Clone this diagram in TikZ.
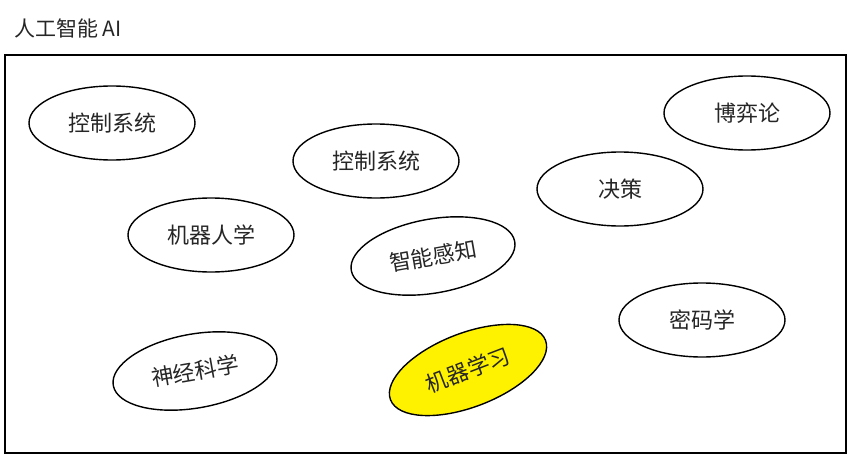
\documentclass[tikz,border=0pt]{standalone}
\usepackage{fontspec}
\setmainfont{Noto Sans CJK SC}
\usetikzlibrary{shapes.geometric}
\tikzset{
  topic/.style={draw=black, line width=1.4pt, ellipse, minimum width=166pt, minimum height=74pt, inner sep=0pt, font=\fontsize{22}{26}\selectfont, text=black!85, fill=white},
  frame/.style={draw=black, line width=1.6pt}
}
\begin{document}
\begin{tikzpicture}[x=1pt,y=-1pt]
\useasboundingbox (0,0) rectangle (852,458);
\node[anchor=west, font=\fontsize{21}{24}\selectfont, text=black!85, inner sep=0pt] (title) at (14,28) {人工智能 AI};
\node[frame, minimum width=841pt, minimum height=398pt, inner sep=0pt] (box) at (425.5,254) {};
\node[topic] (ks1) at (112,123) {控制系统};
\node[topic] (ks2) at (376,161) {控制系统};
\node[topic] (byl) at (747,113) {博弈论};
\node[topic] (jc) at (620,189) {决策};
\node[topic] (jqrx) at (211,235) {机器人学};
\node[topic, rotate=10] (zngz) at (433,256) {智能感知};
\node[topic] (mmx) at (702,320) {密码学};
\node[topic, rotate=10] (sjkx) at (195,371) {神经科学};
\node[topic, rotate=21, fill=yellow] (jqxx) at (468,370) {机器学习};
\end{tikzpicture}
\end{document}
